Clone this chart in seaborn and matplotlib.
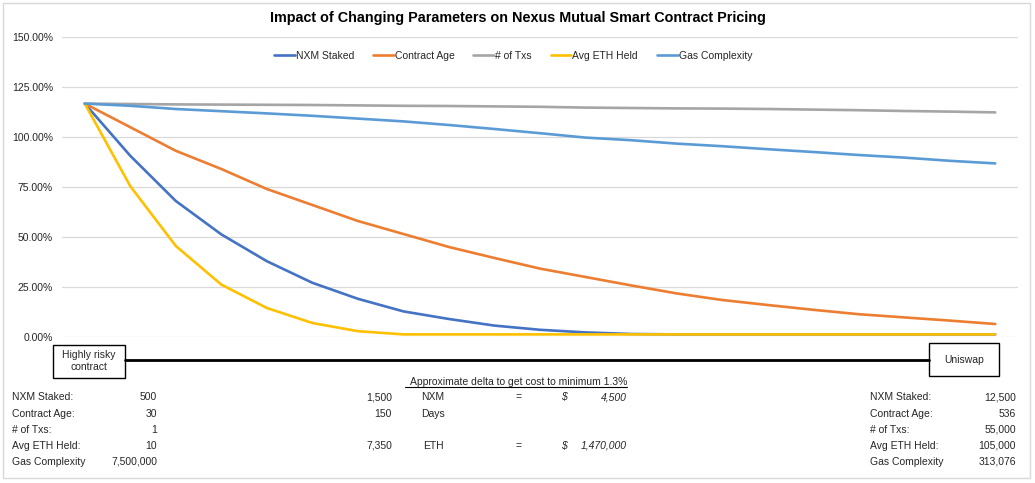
import pandas as pd
import matplotlib
matplotlib.use("Agg")
import matplotlib.pyplot as plt
import seaborn as sns
from matplotlib.ticker import FuncFormatter, MultipleLocator
from matplotlib.patches import Rectangle
from matplotlib.lines import Line2D

# chart data
steps = list(range(21))
nxm_staked = [116.7, 90.6, 68.0, 51.3, 37.9, 27.1, 19.1, 12.8, 9.0, 5.7, 3.6,
              2.3, 1.5, 1.3, 1.3, 1.3, 1.3, 1.3, 1.3, 1.3, 1.3]
contract_age = [116.7, 104.9, 93.1, 84.0, 74.0, 66.0, 58.0, 51.5, 45.0, 39.5, 34.2,
                30.0, 25.8, 21.8, 18.5, 16.0, 13.6, 11.4, 9.8, 8.2, 6.5]
num_txs = [116.7, 116.5, 116.3, 116.2, 116.1, 116.0, 115.8, 115.6, 115.5, 115.3, 115.1,
           114.7, 114.5, 114.3, 114.2, 114.0, 113.7, 113.4, 113.0, 112.7, 112.3]
avg_eth_held = [116.7, 75.4, 45.5, 26.2, 14.5, 7.0, 2.9, 1.3, 1.3, 1.3, 1.3,
                1.3, 1.3, 1.3, 1.3, 1.3, 1.3, 1.3, 1.3, 1.3, 1.3]
gas_complexity = [116.7, 115.6, 114.0, 112.9, 111.8, 110.6, 109.2, 107.8, 106.0, 104.0, 101.9,
                  99.7, 98.4, 96.7, 95.4, 93.9, 92.5, 91.0, 89.7, 88.1, 86.8]

series_names = ["NXM Staked", "Contract Age", "# of Txs", "Avg ETH Held", "Gas Complexity"]
series_colors = ["#4472C4", "#ED7D31", "#A5A5A5", "#FFC000", "#5B9BD5"]

# table underneath the chart
row_labels = ["NXM Staked:", "Contract Age:", "# of Txs:", "Avg ETH Held:", "Gas Complexity"]
risky_values = ["500", "30", "1", "10", "7,500,000"]
uniswap_values = ["12,500", "536", "55,000", "105,000", "313,076"]
delta_amounts = ["1,500", "150", "", "7,350", ""]
delta_units = ["NXM", "Days", "", "ETH", ""]
delta_usd = ["4,500", "", "", "1,470,000", ""]

W, H = 1035, 483


def px(x, y):
    """ pixel position (from top-left) to figure fraction """
    return x / W, 1 - y / H


sns.set_theme(style="white")
plt.rcParams["font.family"] = ["Liberation Sans", "DejaVu Sans"]

df = pd.DataFrame({"step": steps})
for name, vals in zip(series_names, [nxm_staked, contract_age, num_txs, avg_eth_held, gas_complexity]):
    df[name] = vals
long_df = df.melt(id_vars="step", var_name="series", value_name="value")

fig = plt.figure(figsize=(W / 100, H / 100), dpi=100)
ax = fig.add_axes([62 / W, 1 - 337 / H, (1018 - 62) / W, 300 / H])

sns.lineplot(data=long_df, x="step", y="value", hue="series", hue_order=series_names,
             palette=dict(zip(series_names, series_colors)), linewidth=1.9, ax=ax)

ax.set_xlim(-0.5, 20.5)
ax.set_ylim(0, 150)
ax.yaxis.set_major_locator(MultipleLocator(25))
ax.yaxis.set_major_formatter(FuncFormatter(lambda v, _: f"{v:.2f}%"))
ax.set_xticks([])
ax.set_xlabel("")
ax.set_ylabel("")
ax.grid(axis="y", color="#D9D9D9", linewidth=0.9)
ax.set_axisbelow(True)
for sp in ax.spines.values():
    sp.set_visible(False)
ax.tick_params(axis="y", length=0, labelsize=7.5, pad=6.5, labelcolor="#262626")

sns.move_legend(ax, "center", bbox_to_anchor=((513 - 62) / 956, (337 - 56) / 300),
                ncol=5, title=None, frameon=False, fontsize=7.5,
                handlelength=2.0, handletextpad=0.1, columnspacing=1.8)

fig.text(*px(518, 18), "Impact of Changing Parameters on Nexus Mutual Smart Contract Pricing",
         ha="center", va="center", fontsize=10.4, fontweight="bold", color="black")

# timeline from risky contract to Uniswap
fig.add_artist(Line2D([125 / W, 929 / W], [1 - 360 / H] * 2, color="black", lw=2))
fig.add_artist(Rectangle(px(53, 378), 72 / W, 33 / H, transform=fig.transFigure,
                         fill=True, fc="white", ec="black", lw=1))
fig.add_artist(Rectangle(px(929, 376), 70 / W, 33 / H, transform=fig.transFigure,
                         fill=True, fc="white", ec="black", lw=1))
fig.text(*px(89, 361), "Highly risky\ncontract", ha="center", va="center", fontsize=7.5,
         linespacing=1.3)
fig.text(*px(964, 360), "Uniswap", ha="center", va="center", fontsize=7.5)

# header of the middle block, underlined
fig.text(*px(627, 382), "Approximate delta to get cost to minimum 1.3%", ha="right",
         va="center", fontsize=7.5)
fig.add_artist(Line2D([405 / W, 627 / W], [1 - 386.5 / H] * 2, color="black", lw=0.8))

row_y = [397, 414, 430, 446, 462]
for i, y in enumerate(row_y):
    fig.text(*px(12, y), row_labels[i], ha="left", va="center", fontsize=7.5)
    fig.text(*px(157, y), risky_values[i], ha="right", va="center", fontsize=7.5)
    fig.text(*px(870, y), row_labels[i], ha="left", va="center", fontsize=7.5)
    fig.text(*px(1016, y), uniswap_values[i], ha="right", va="center", fontsize=7.5)
    if delta_amounts[i]:
        fig.text(*px(392, y), delta_amounts[i], ha="right", va="center", fontsize=7.5)
        fig.text(*px(433, y), delta_units[i], ha="center", va="center", fontsize=7.5)
    if delta_usd[i]:
        fig.text(*px(518, y), "=", ha="center", va="center", fontsize=7.5)
        fig.text(*px(561, y), "$", ha="left", va="center", fontsize=7.5, style="italic")
        fig.text(*px(627, y), delta_usd[i], ha="right", va="center", fontsize=7.5,
                 style="italic")

# light frame round the whole chart
fig.add_artist(Rectangle(px(3, 478), 1027 / W, 475 / H, transform=fig.transFigure,
                         fill=False, ec="#D9D9D9", lw=1))

fig.savefig("out.png", dpi=100)
plt.close()
